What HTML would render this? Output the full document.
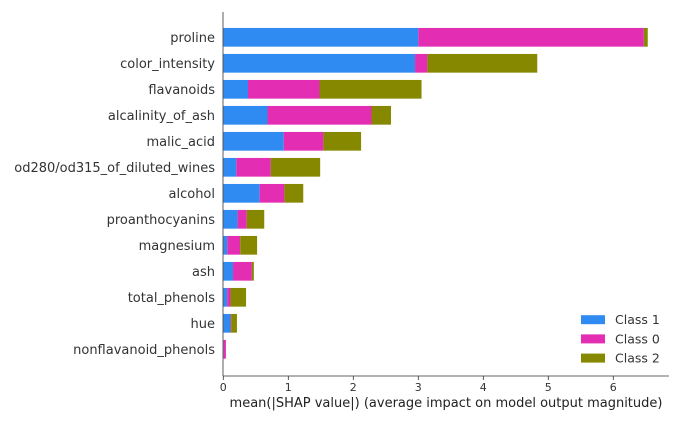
<!DOCTYPE html>
<html><head><meta charset="utf-8"><style>
body{margin:0;background:#fff;}
svg{display:block;font-family:"DejaVu Sans","Liberation Sans",sans-serif;}
</style></head><body>
<svg id="chart" width="692" height="423" viewBox="0 0 692 423" xmlns="http://www.w3.org/2000/svg">
<g id="bars"></g>
<g id="axes"></g>
<g id="legend"></g>
</svg>
<script>
const features = ["proline","color_intensity","flavanoids","alcalinity_of_ash","malic_acid","od280/od315_of_diluted_wines","alcohol","proanthocyanins","magnesium","ash","total_phenols","hue","nonflavanoid_phenols"];
const class1 = [3.00,2.95,0.38,0.68,0.93,0.20,0.56,0.22,0.06,0.15,0.06,0.11,0.005];
const class0 = [3.47,0.19,1.10,1.60,0.61,0.53,0.38,0.14,0.20,0.29,0.05,0.01,0.035];
const class2 = [0.06,1.69,1.57,0.30,0.58,0.76,0.29,0.27,0.26,0.03,0.24,0.09,0.0];
const xTicks = [0,1,2,3,4,5,6];
const seriesNames = ["Class 1","Class 0","Class 2"];
const colors = ["#2f8af2","#e32db3","#868800"];

const NS="http://www.w3.org/2000/svg";
const x0=223.3, pxPer=65, yTop=37.3, rowH=26, barH=18.7, axisY=376, axisRight=669;
const xScale=v=>x0+v*pxPer;
const yScale=i=>yTop+i*rowH;
function mk(tag,attrs,parent,text){const e=document.createElementNS(NS,tag);for(const k in attrs)e.setAttribute(k,attrs[k]);if(text!==undefined)e.textContent=text;parent.appendChild(e);return e;}
const bars=document.getElementById('bars'), axes=document.getElementById('axes'), legend=document.getElementById('legend');
const series=[class1,class0,class2];
features.forEach((f,i)=>{
  let acc=0;
  series.forEach((s,k)=>{
    const r=mk('rect',{x:xScale(acc),y:yScale(i)-barH/2,width:Math.max(0,s[i]*pxPer),height:barH,fill:colors[k]},bars);
    
    
    acc+=s[i];
  });
  const t=mk('text',{x:215,y:yScale(i)+4.5,'text-anchor':'end','font-size':13,fill:'#333'},axes,f);
  
  
});
const sp=mk('line',{x1:223,y1:12,x2:223,y2:axisY,stroke:'#333','stroke-width':0.8},axes);


const bl=mk('line',{x1:223,y1:axisY,x2:axisRight,y2:axisY,stroke:'#333','stroke-width':0.8},axes);


xTicks.forEach(v=>{
  const tk=mk('line',{x1:xScale(v),y1:axisY,x2:xScale(v),y2:axisY+4,stroke:'#333','stroke-width':0.8},axes);
  
  
  const tl=mk('text',{x:xScale(v),y:axisY+15,'text-anchor':'middle','font-size':11,fill:'#333'},axes,String(v));
  
  
});
const xt=mk('text',{x:446,y:407,'text-anchor':'middle','font-size':13,fill:'#222'},axes,'mean(|SHAP value|) (average impact on model output magnitude)');


seriesNames.forEach((n,k)=>{
  const cy=319.7+k*19.2;
  const p=mk('rect',{x:581,y:cy-4.5,width:24,height:9,fill:colors[k]},legend);
  
  
  const t=mk('text',{x:615,y:cy+4.5,'font-size':12.5,fill:'#333'},legend,n);
  
  
});
</script>
</body></html>
